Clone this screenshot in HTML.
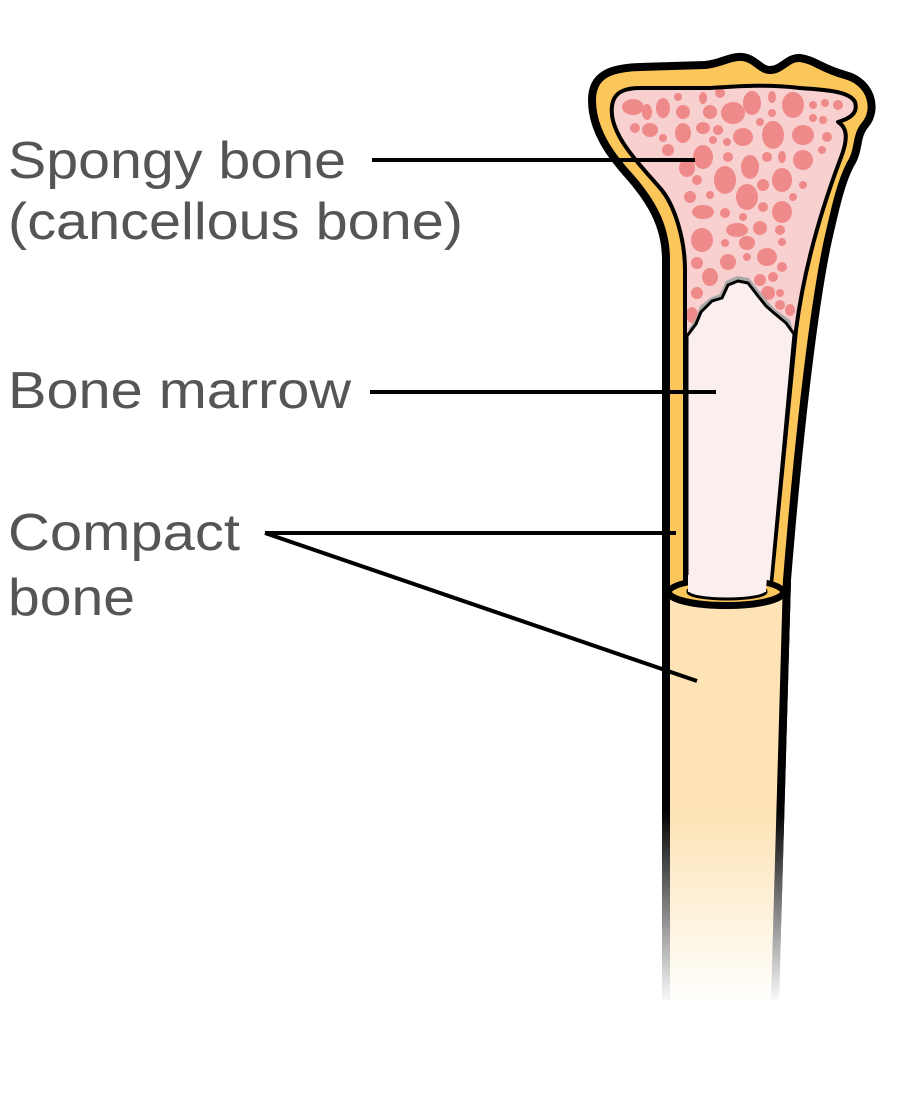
<!DOCTYPE html>
<html><head><meta charset="utf-8"><style>html,body{margin:0;padding:0;background:#fff}svg{display:block}</style></head>
<body>
<svg width="900" height="1103" viewBox="0 0 900 1103" xmlns="http://www.w3.org/2000/svg">
<defs>
<linearGradient id="fade" x1="0" y1="0" x2="0" y2="1">
<stop offset="0" stop-color="#fff" stop-opacity="0"/>
<stop offset="1" stop-color="#fff" stop-opacity="1"/>
</linearGradient>
<clipPath id="sp"><path d="M 685 595 L 685 270 C 685 240 675 205 660 188 C 640 165 615 140 612 115 C 610 95 620 88 640 88 L 710 88 C 740 86 770 84 800 88 C 830 90 850 92 855 102 C 858 112 852 118 838 122 C 848 128 848 140 840 160 C 825 200 805 260 796 330 L 770 595 Z"/></clipPath>
</defs>
<path d="M 666 1000 L 666 260 C 666 225 650 200 630 177 C 610 155 592 130 592 100 C 592 75 610 68 640 67 L 705 65 C 720 64 730 56 742 57 C 755 58 760 70 770 70 C 782 70 788 57 800 58 C 815 60 820 68 845 75 C 872 82 878 110 865 125 C 855 137 860 150 850 165 C 840 185 835 210 828 240 C 815 300 800 420 787 580 L 775 1000 Z" fill="#fcc75a" stroke="#000" stroke-width="8" stroke-linejoin="round"/>
<path d="M 685 595 L 685 270 C 685 240 675 205 660 188 C 640 165 615 140 612 115 C 610 95 620 88 640 88 L 710 88 C 740 86 770 84 800 88 C 830 90 850 92 855 102 C 858 112 852 118 838 122 C 848 128 848 140 840 160 C 825 200 805 260 796 330 L 770 595 Z" fill="#f8d0cf"/>
<g clip-path="url(#sp)" fill="#ef8a8a">
<ellipse cx="633" cy="107" rx="11" ry="8"/><ellipse cx="663" cy="108" rx="7" ry="10"/><ellipse cx="683" cy="112" rx="7" ry="7"/><ellipse cx="647" cy="112" rx="5" ry="8"/><ellipse cx="678" cy="97" rx="4" ry="4"/><ellipse cx="703" cy="98" rx="4" ry="6"/><ellipse cx="710" cy="112" rx="7" ry="7"/><ellipse cx="720" cy="93" rx="5" ry="5"/><ellipse cx="733" cy="113" rx="12" ry="11"/><ellipse cx="752" cy="103" rx="9" ry="12"/><ellipse cx="772" cy="97" rx="4" ry="6"/><ellipse cx="772" cy="113" rx="4" ry="4"/><ellipse cx="793" cy="105" rx="11" ry="13"/><ellipse cx="813" cy="105" rx="4" ry="4"/><ellipse cx="825" cy="103" rx="4" ry="4"/><ellipse cx="838" cy="105" rx="5" ry="5"/><ellipse cx="823" cy="120" rx="4" ry="4"/><ellipse cx="813" cy="118" rx="4" ry="4"/>
<ellipse cx="635" cy="128" rx="5" ry="5"/><ellipse cx="650" cy="130" rx="8" ry="7"/><ellipse cx="663" cy="138" rx="4" ry="4"/><ellipse cx="683" cy="133" rx="8" ry="10"/><ellipse cx="703" cy="128" rx="7" ry="6"/><ellipse cx="718" cy="130" rx="5" ry="5"/><ellipse cx="743" cy="137" rx="10" ry="9"/><ellipse cx="773" cy="135" rx="11" ry="14"/><ellipse cx="803" cy="135" rx="11" ry="10"/><ellipse cx="827" cy="137" rx="5" ry="5"/><ellipse cx="760" cy="122" rx="4" ry="4"/>
<ellipse cx="668" cy="150" rx="6" ry="6"/><ellipse cx="703" cy="157" rx="10" ry="12"/><ellipse cx="687" cy="168" rx="8" ry="9"/><ellipse cx="713" cy="140" rx="4" ry="4"/><ellipse cx="727" cy="142" rx="4" ry="4"/><ellipse cx="728" cy="157" rx="5" ry="5"/><ellipse cx="750" cy="167" rx="9" ry="12"/><ellipse cx="767" cy="157" rx="5" ry="5"/><ellipse cx="782" cy="157" rx="4" ry="6"/><ellipse cx="803" cy="160" rx="10" ry="10"/><ellipse cx="822" cy="150" rx="4" ry="4"/>
<ellipse cx="725" cy="180" rx="11" ry="14"/><ellipse cx="697" cy="180" rx="5" ry="5"/><ellipse cx="763" cy="185" rx="6" ry="6"/><ellipse cx="782" cy="180" rx="10" ry="12"/><ellipse cx="803" cy="185" rx="4" ry="4"/><ellipse cx="690" cy="197" rx="6" ry="6"/><ellipse cx="710" cy="195" rx="4" ry="4"/><ellipse cx="747" cy="197" rx="11" ry="13"/><ellipse cx="763" cy="207" rx="5" ry="5"/><ellipse cx="782" cy="212" rx="10" ry="11"/><ellipse cx="793" cy="197" rx="4" ry="4"/>
<ellipse cx="703" cy="212" rx="11" ry="7"/><ellipse cx="725" cy="213" rx="5" ry="5"/><ellipse cx="743" cy="217" rx="4" ry="4"/><ellipse cx="737" cy="230" rx="11" ry="7"/><ellipse cx="760" cy="228" rx="7" ry="7"/><ellipse cx="780" cy="230" rx="5" ry="5"/><ellipse cx="702" cy="240" rx="11" ry="12"/><ellipse cx="725" cy="243" rx="4" ry="4"/><ellipse cx="747" cy="243" rx="8" ry="7"/><ellipse cx="782" cy="242" rx="4" ry="4"/>
<ellipse cx="767" cy="257" rx="10" ry="9"/><ellipse cx="697" cy="263" rx="6" ry="6"/><ellipse cx="728" cy="262" rx="8" ry="8"/><ellipse cx="747" cy="257" rx="4" ry="4"/><ellipse cx="782" cy="267" rx="5" ry="5"/><ellipse cx="710" cy="277" rx="8" ry="9"/><ellipse cx="760" cy="280" rx="6" ry="6"/><ellipse cx="773" cy="277" rx="5" ry="5"/><ellipse cx="697" cy="293" rx="6" ry="6"/><ellipse cx="768" cy="293" rx="7" ry="7"/><ellipse cx="780" cy="293" rx="4" ry="4"/><ellipse cx="692" cy="315" rx="6" ry="8"/><ellipse cx="790" cy="310" rx="5" ry="6"/><ellipse cx="780" cy="305" rx="5" ry="5"/>
</g>
<path d="M 685 595 L 685 270 C 685 240 675 205 660 188 C 640 165 615 140 612 115 C 610 95 620 88 640 88 L 710 88 C 740 86 770 84 800 88 C 830 90 850 92 855 102 C 858 112 852 118 838 122 C 848 128 848 140 840 160 C 825 200 805 260 796 330 L 770 595 Z" fill="none" stroke="#000" stroke-width="4" stroke-linejoin="round"/>
<path d="M 688 330 L 696 318 L 700 306 L 710 298 L 720 294 L 726 281 L 737 276 L 749 278 L 760 292 L 768 302 L 776 310 L 790 320 L 794 334 Z" fill="#a9a9a9"/>
<path d="M 687 595 L 687 336 L 696 324 L 701 312 L 712 301 L 722 298 L 728 285 L 738 281 L 748 283 L 758 296 L 766 306 L 774 313 L 786 323 L 794 334 L 770 595 Z" fill="#fbeeee" stroke="#000" stroke-width="3" stroke-linejoin="round"/>
<ellipse cx="726" cy="592" rx="57" ry="13" fill="#fcc75a" stroke="#000" stroke-width="6"/>
<ellipse cx="727" cy="591" rx="39" ry="7" fill="#fbeeee" stroke="#000" stroke-width="3"/>
<path d="M 688 575 L 688 592 A 39 7 0 0 0 766 592 L 767 575 Z" fill="#fbeeee"/>
<path d="M 688 592 A 39 7 0 0 0 766 592" fill="none" stroke="#000" stroke-width="3"/>
<path d="M 669 593 A 57 13 0 0 0 783 593 L 775 1000 L 669 1000 Z" fill="#fde3b5"/>
<path d="M 669 593 A 57 13 0 0 0 783 593" fill="none" stroke="#000" stroke-width="6"/>
<line x1="666" y1="580" x2="666" y2="1000" stroke="#000" stroke-width="8"/>
<line x1="787" y1="580" x2="775" y2="1000" stroke="#000" stroke-width="8"/>
<rect x="650" y="810" width="150" height="195" fill="url(#fade)"/>
<rect x="650" y="1000" width="150" height="10" fill="#fff"/>
<g stroke="#000" stroke-width="4">
<line x1="372" y1="160" x2="695" y2="160"/>
<line x1="370" y1="392" x2="716" y2="392"/>
<line x1="265" y1="533" x2="676" y2="533"/>
<line x1="265" y1="533" x2="697" y2="681"/>
</g>
<g font-family="'Liberation Sans', sans-serif" font-size="52" fill="#555">
<text x="8" y="178" textLength="338" lengthAdjust="spacingAndGlyphs">Spongy bone</text>
<text x="8" y="239" textLength="455" lengthAdjust="spacingAndGlyphs">(cancellous bone)</text>
<text x="8" y="408" textLength="343" lengthAdjust="spacingAndGlyphs">Bone marrow</text>
<text x="8" y="550" textLength="232" lengthAdjust="spacingAndGlyphs">Compact</text>
<text x="8" y="615" textLength="127" lengthAdjust="spacingAndGlyphs">bone</text>
</g>
</svg>
</body></html>
